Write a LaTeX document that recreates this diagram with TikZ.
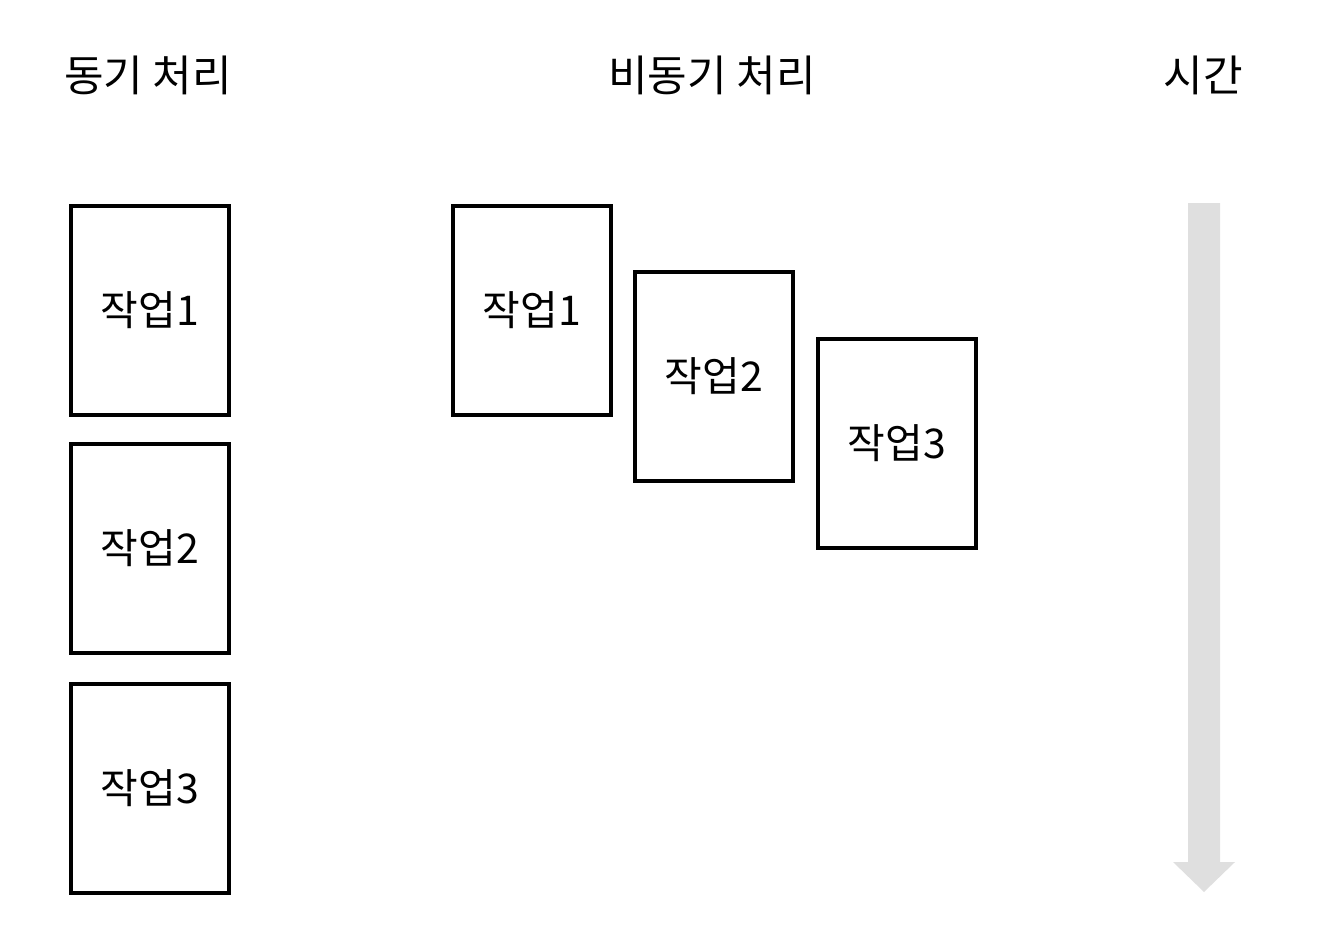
\documentclass[tikz,border=0pt]{standalone}
\usepackage{fontspec}
\newfontfamily\kr{Noto Sans CJK KR}
\begin{document}
\begin{tikzpicture}[x=1pt,y=-1pt,
  task/.style={draw=black,line width=3.5pt,fill=white,minimum width=158pt,minimum height=209pt,inner sep=0pt,font=\kr\fontsize{41}{48}\selectfont,anchor=north west},
  title/.style={font=\kr\fontsize{43}{50}\selectfont}]
\useasboundingbox (0,0) rectangle (1332,934);
\node[title] (t1) at (148,75) {동기 처리};
\node[title] (t2) at (712,75) {비동기 처리};
\node[title] (t3) at (1203,75) {시간};
% synchronous
\node[task] (s1) at (69,204) {작업1};
\node[task] (s2) at (69,442) {작업2};
\node[task] (s3) at (69,682) {작업3};
% asynchronous
\node[task] (a1) at (451,204) {작업1};
\node[task] (a2) at (633,270) {작업2};
\node[task] (a3) at (816,337) {작업3};
% time arrow
\fill[gray!25] (1188,203) -- (1220,203) -- (1220,862) -- (1235,862) -- (1204,892) -- (1173,862) -- (1188,862) -- cycle;
\end{tikzpicture}
\end{document}
